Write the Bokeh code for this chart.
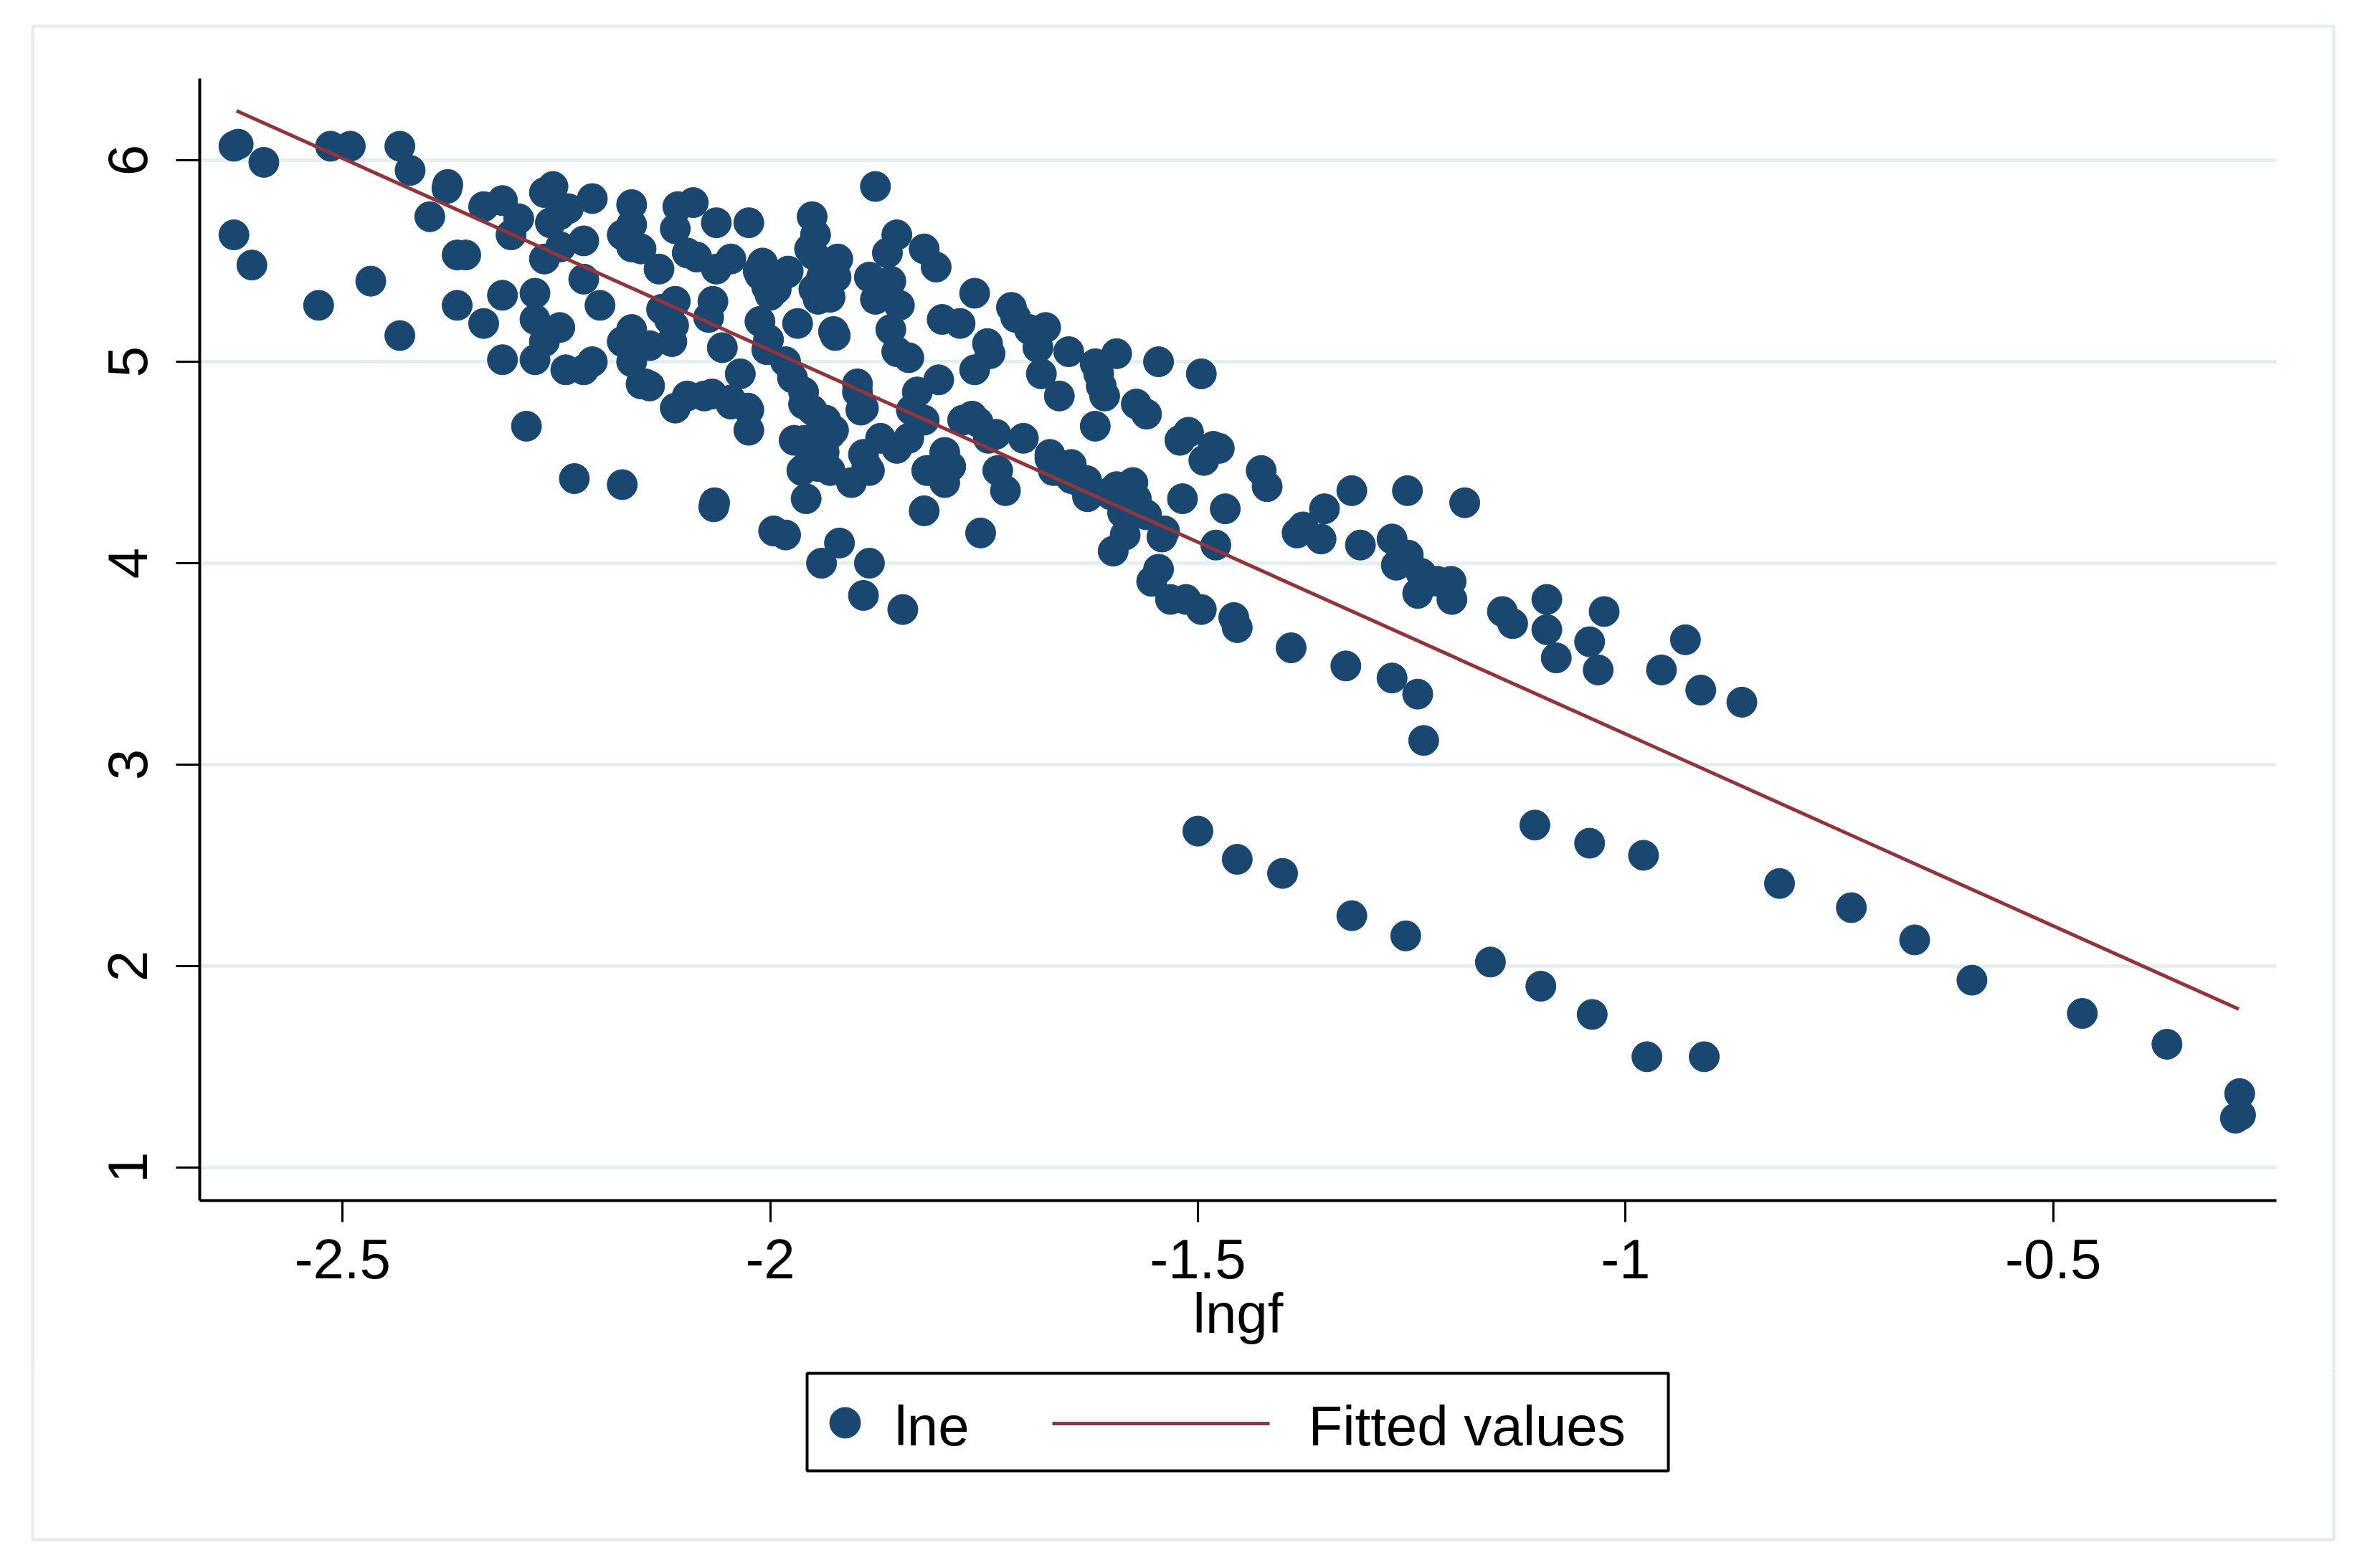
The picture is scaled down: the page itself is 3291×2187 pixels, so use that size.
from bokeh.plotting import figure
from bokeh.layouts import column, row
from bokeh.models import Range1d, FixedTicker
from bokeh.core.properties import value
from bokeh.embed import file_html
from bokeh.resources import INLINE

# ---- data: lne (y) vs lngf (x) ----
lngf = [
    -2.627, -2.622, -2.592, -2.627, -2.606, -2.528, -2.514, -2.491, -2.467, -2.433,
    -2.421, -2.433, -2.398, -2.377, -2.378, -2.366, -2.356, -2.366, -2.335, -2.313,
    -2.303, -2.294, -2.335, -2.313, -2.313, -2.285, -2.275, -2.275, -2.275, -2.264,
    -2.264, -2.254, -2.264, -2.246, -2.246, -2.236, -2.239, -2.229, -2.218, -2.218,
    -2.208, -2.208, -2.199, -2.218, -2.173, -2.173, -2.162, -2.162, -2.162, -2.151,
    -2.173, -2.162, -2.162, -2.151, -2.141, -2.141, -2.130, -2.118, -2.111, -2.115,
    -2.111, -2.108, -2.111, -2.097, -2.090, -2.097, -2.086, -2.077, -2.068, -2.065,
    -2.066, -2.067, -2.063, -2.063, -2.072, -2.056, -2.046, -2.046, -2.035, -2.025,
    -2.025, -2.025, -2.014, -2.009, -2.004, -2.000, -1.996, -1.982, -2.012, -2.004,
    -1.989, -1.980, -1.982, -1.974, -1.972, -1.968, -1.961, -1.961, -1.958, -1.958,
    -1.954, -1.951, -1.947, -1.940, -1.944, -1.940, -1.951, -1.940, -1.933, -1.937,
    -1.944, -1.930, -1.926, -1.921, -1.919, -1.905, -1.898, -1.894, -1.891, -1.887,
    -1.891, -1.884, -1.884, -1.877, -1.877, -1.871, -1.863, -1.859, -1.859, -1.852,
    -1.852, -1.849, -1.845, -1.838, -1.852, -1.838, -1.835, -1.828, -1.820, -1.820,
    -1.806, -1.813, -1.803, -1.799, -1.796, -1.796, -1.789, -1.778, -1.775, -1.761,
    -1.761, -1.757, -1.754, -1.746, -1.743, -1.736, -1.734, -1.725, -1.718, -1.713,
    -1.704, -1.697, -1.687, -1.678, -1.683, -1.673, -1.669, -1.662, -1.651, -1.648,
    -1.637, -1.630, -1.620, -1.616, -1.613, -1.609, -1.602, -1.599, -1.595, -1.595,
    -1.588, -1.585, -1.577, -1.572, -1.560, -1.572, -1.560, -1.554, -1.546, -1.546,
    -1.539, -1.532, -1.518, -1.521, -1.511, -1.496, -1.496, -1.514, -1.493, -1.482,
    -1.475, -1.479, -1.468, -1.458, -1.454, -1.426, -1.419, -1.391, -1.384, -1.377,
    -1.356, -1.352, -1.320, -1.327, -1.310, -1.273, -1.268, -1.273, -1.255, -1.254,
    -1.239, -1.243, -1.243, -1.236, -1.220, -1.203, -1.204, -1.188, -1.144, -1.132,
    -1.092, -1.092, -1.081, -1.042, -1.032, -1.025, -0.958, -0.930, -0.912, -0.864,
    -1.620, -1.600, -1.648, -1.673, -1.629, -1.576, -1.662, -1.764, -1.745, -1.820,
    -1.898, -1.891, -1.937, -1.930, -1.937, -1.884, -1.817, -1.923, -1.924, -1.542,
    -2.257, -2.245, -2.146, -2.127, -2.113, -2.046, -2.026, -2.012, -1.993, -2.002,
    -1.979, -1.960, -1.963, -1.944, -1.949, -1.949, -1.930, -1.935, -1.926,
    -1.500, -1.454, -1.401, -1.320, -1.257, -1.158, -1.106, -1.099, -1.042, -1.039,
    -0.979, -0.975, -0.908, -0.820, -0.736, -0.662, -0.595, -0.466, -0.367, -0.282,
    -0.287, -0.281,
]
lne = [
    6.07, 6.08, 5.99, 5.63, 5.48, 5.28, 6.07, 6.07, 5.40, 6.07,
    5.95, 5.13, 5.72, 5.88, 5.86, 5.53, 5.53, 5.28, 5.77, 5.80,
    5.63, 5.71, 5.19, 5.33, 5.01, 4.68, 5.34, 5.21, 5.01, 5.51,
    5.84, 5.87, 5.10, 5.17, 5.73, 5.76, 4.96, 4.42, 5.60, 5.41,
    5.81, 5.00, 5.28, 4.96, 4.39, 5.63, 5.78, 5.68, 5.57, 5.56,
    5.10, 5.16, 5.00, 4.89, 4.88, 5.08, 5.46, 5.21, 5.30, 5.10,
    5.66, 5.77, 4.77, 4.83, 5.79, 5.54, 5.52, 4.83, 4.84, 4.30,
    4.28, 5.30, 5.69, 5.46, 5.22, 5.07, 5.51, 4.81, 4.94, 5.69,
    4.76, 4.66, 5.45, 5.49, 5.37, 5.33, 4.16, 4.14, 5.20, 5.06,
    5.43, 5.44, 5.00, 4.92, 4.61, 5.19, 4.85, 4.79, 4.48, 4.32,
    5.56, 5.72, 5.63, 4.00, 5.31, 5.42, 4.76, 4.70, 4.68, 4.55,
    4.62, 4.46, 5.15, 5.51, 4.10, 4.40, 4.89, 4.76, 4.54, 4.48,
    3.84, 4.00, 5.42, 5.87, 5.31, 4.62, 5.54, 5.40, 5.16, 5.63,
    5.05, 5.28, 3.77, 5.02, 4.57, 4.62, 4.76, 4.85, 4.26, 5.56,
    5.47, 4.46, 4.91, 5.21, 4.55, 4.40, 4.48, 5.19, 4.71, 5.34,
    4.96, 4.70, 4.15, 5.09, 5.04, 4.64, 4.46, 4.36, 5.27, 5.22,
    4.62, 5.16, 5.07, 5.17, 4.94, 4.54, 4.46, 4.83, 5.05, 4.49,
    4.40, 4.41, 4.68, 4.94, 4.88, 4.83, 4.34, 4.06, 5.04, 4.38,
    4.25, 4.14, 4.38, 4.79, 4.74, 4.32, 4.24, 3.91, 3.97, 5.00,
    4.16, 3.82, 4.32, 4.61, 4.65, 4.94, 3.77, 3.82, 4.51, 4.58,
    4.57, 4.09, 4.27, 3.73, 3.68, 4.46, 4.38, 3.58, 4.15, 4.18,
    4.12, 4.27, 4.36, 3.49, 4.09, 4.12, 3.99, 3.43, 4.36, 4.04,
    3.95, 3.85, 3.35, 3.12, 3.91, 3.82, 3.91, 4.30, 3.76, 3.70,
    3.82, 3.67, 3.53, 3.61, 3.47, 3.76, 3.47, 3.62, 3.37, 3.31,
    4.99, 4.36, 4.42, 4.52, 4.33, 4.40, 4.46, 4.73, 4.62, 4.71,
    4.85, 4.77, 4.71, 4.64, 4.48, 4.46, 4.46, 5.42, 5.13, 4.13,
    5.69, 5.57, 4.89, 5.26, 5.18, 4.79, 4.77, 5.43, 5.36, 5.11,
    5.45, 4.61, 4.46, 4.48, 5.53, 5.36, 5.32, 4.71, 4.66,
    2.67, 2.53, 2.46, 2.25, 2.15, 2.02, 2.70, 1.90, 2.61, 1.76,
    2.55, 1.55, 1.55, 2.41, 2.29, 2.13, 1.93, 1.765, 1.612, 1.367,
    1.245, 1.26,
]

# fitted values (end points of the regression line)
fit_x = [-2.624, -0.283]
fit_y = [6.246, 1.786]

x_ticks = [-2.5, -2, -1.5, -1, -0.5]
x_labels = ["-2.5", "-2", "-1.5", "-1", "-0.5"]
y_ticks = [1, 2, 3, 4, 5, 6]
y_labels = ["1", "2", "3", "4", "5", "6"]

legend_labels = ["lne", "Fitted values"]
x_title = "lngf"

NAVY = "#1a476f"
MAROON = "#90353b"
FRAME_BORDER = "#e2ecea"
FONT = "Liberation Sans"
FS = "78px"

W = 3275
TOP_H = 40
MID_H = 1868
LEG_H = 263
SIDE_W = 50


def blank(width, height):
    f = figure(width=width, height=height, output_backend="svg", toolbar_location=None,
               x_range=Range1d(0, width), y_range=Range1d(height, 0),
               min_border=0, x_axis_location=None, y_axis_location=None, title=None)
    f.frame_align = False
    f.outline_line_color = None
    f.xgrid.visible = False
    f.ygrid.visible = False
    f.background_fill_color = "white"
    f.border_fill_color = "white"
    return f


# ---- faint outer frame pieces ----
top = blank(W, TOP_H)
top.line([45, 45, 3254, 3254], [TOP_H, 36, 36, TOP_H], line_color=FRAME_BORDER, line_width=4)
left = blank(SIDE_W, MID_H)
left.line([45, 45], [0, MID_H], line_color=FRAME_BORDER, line_width=4)
right = blank(SIDE_W, MID_H)
right.line([29, 29], [0, MID_H], line_color=FRAME_BORDER, line_width=4)

# ---- main scatter plot ----
p = figure(width=W - 2 * SIDE_W, height=MID_H, output_backend="svg", toolbar_location=None,
           x_range=Range1d(-2.667, -0.239), y_range=Range1d(0.836, 6.406),
           min_border_left=278 - SIDE_W, min_border_right=(W - SIDE_W) - 3174,
           min_border_top=109 - TOP_H, min_border_bottom=(TOP_H + MID_H) - 1674,
           title=None)
p.frame_align = False
p.outline_line_color = None
p.background_fill_color = "white"
p.border_fill_color = "white"
p.xgrid.visible = False
p.ygrid.ticker = FixedTicker(ticks=y_ticks)
p.ygrid.grid_line_color = "#e6eff0"
p.ygrid.grid_line_width = 5

xa = p.xaxis[0]
xa.ticker = FixedTicker(ticks=x_ticks)
xa.major_label_overrides = {t: l for t, l in zip(x_ticks, x_labels)}
xa.axis_label = x_title
ya = p.yaxis[0]
ya.ticker = FixedTicker(ticks=y_ticks)
ya.major_label_overrides = {t: l for t, l in zip(y_ticks, y_labels)}
ya.major_label_orientation = "vertical"

for ax, tick_out in ((xa, 30), (ya, 33)):
    ax.axis_line_color = "black"
    ax.axis_line_width = 4
    ax.major_tick_line_color = "black"
    ax.major_tick_line_width = 3
    ax.major_tick_out = tick_out
    ax.major_tick_in = 0
    ax.minor_tick_line_color = None
    ax.major_label_text_font = FONT
    ax.major_label_text_font_size = FS
    ax.major_label_text_color = "black"
    ax.axis_label_text_font = FONT
    ax.axis_label_text_font_size = FS
    ax.axis_label_text_font_style = "normal"
    ax.axis_label_text_color = "black"
xa.major_label_standoff = 24
xa.axis_label_standoff = 2
ya.major_label_standoff = 40

p.scatter(lngf, lne, size=42, fill_color=NAVY, line_color=NAVY, line_width=1)
p.line(fit_x, fit_y, line_color=MAROON, line_width=5)

# ---- legend panel (pixel coordinates, y downward) ----
L = blank(W, LEG_H)
L.line([45, 45, 3254, 3254], [0, 239, 239, 0], line_color=FRAME_BORDER, line_width=4)
L.quad(left=[1125], right=[2326], top=[7], bottom=[143],
       fill_color="white", line_color="black", line_width=4)
L.scatter([1178], [76], size=43, fill_color=NAVY, line_color=NAVY)
L.line([1467, 1770], [77, 77], line_color=MAROON, line_width=5)
L.text(x=[1247, 1824], y=[80, 80], text=legend_labels,
       text_font=value(FONT), text_font_size=FS, text_color="black",
       text_baseline="alphabetic", text_align="left")

layout = column(top, row(left, p, right, spacing=0), L, spacing=0)

open("out.html", "w").write(file_html(layout, INLINE))
